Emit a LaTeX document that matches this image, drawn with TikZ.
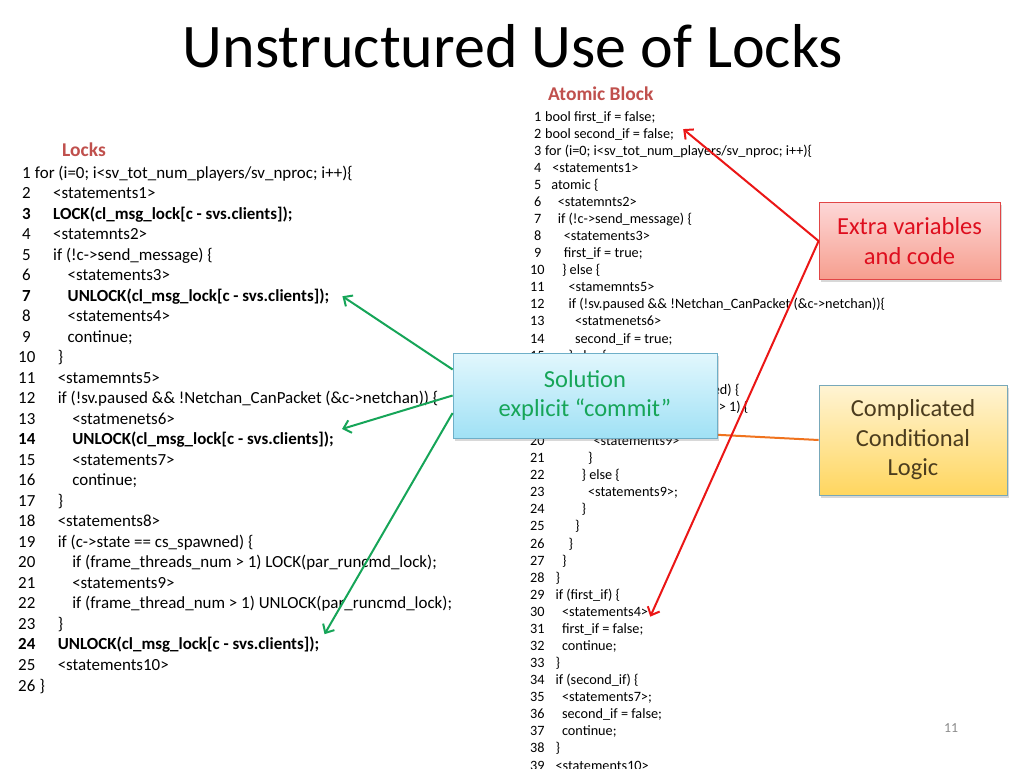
\documentclass[tikz,border=0pt]{standalone}
\usepackage{fontspec}
\setmainfont{Carlito}
\usepackage{tikz}
\usetikzlibrary{positioning,arrows.meta,shadows}

\definecolor{hdred}{RGB}{192,80,77}
\definecolor{solgreen}{RGB}{22,165,88}
\definecolor{arrred}{RGB}{235,22,22}
\definecolor{arrorange}{RGB}{240,115,30}
\definecolor{logictext}{RGB}{75,60,30}

\begin{document}
\begin{tikzpicture}[x=1pt,y=-1pt]
\tikzset{lnum/.style={anchor=base west,inner sep=0pt,font=\fontsize{16.95}{19}\selectfont}}
\tikzset{lnumb/.style={lnum,font=\fontsize{16.95}{19}\selectfont\bfseries}}
\tikzset{lcode/.style={lnum}}
\tikzset{rnum/.style={anchor=base west,inner sep=0pt,font=\fontsize{14.25}{16}\selectfont}}
\tikzset{rcode/.style={rnum}}
\tikzset{hdr/.style={anchor=base west,inner sep=0pt,text=hdred,font=\fontsize{19.5}{22}\selectfont\bfseries}}
\tikzset{callout/.style={align=center,inner sep=0pt,font=\fontsize{24.5}{29.5}\selectfont,
    line width=0.8pt,drop shadow={shadow xshift=2pt,shadow yshift=-2.5pt,opacity=0.3}}}
\tikzset{garrow/.style={draw=solgreen,line width=2pt,-{Straight Barb[length=7pt,width=13pt]}}}
\tikzset{rarrow/.style={draw=arrred,line width=2pt,-{Straight Barb[length=7pt,width=13pt]}}}
\useasboundingbox[fill=white] (0,0) rectangle (1024,768);

\node[anchor=base,inner sep=0pt,font=\fontsize{62}{70}\selectfont] (title) at (513,67) {Unstructured Use of Locks};

% Locks
\node[hdr] (lhead) at (62,156) {Locks};
\foreach \n in {1,2,4,5,6,8,9}
  \node[lnum] (ln\n) at (22,{178+(\n-1)*20.52}) {\n};
\foreach \n in {3,7}
  \node[lnumb] (ln\n) at (22,{178+(\n-1)*20.52}) {\n};
\foreach \n in {10,11,12,13,15,16,17,18,19,20,21,22,23,25,26}
  \node[lnum] (ln\n) at (18,{178+(\n-1)*20.52}) {\n};
\foreach \n in {14,24}
  \node[lnumb] (ln\n) at (18,{178+(\n-1)*20.52}) {\n};

\node[lcode,base right=3.8pt of ln1] (l1) {for (i=0; i<sv\_tot\_num\_players/sv\_nproc; i++)\{};
\node[lcode,base right=22pt of ln2] (l2) {<statements1>};
\node[lcode,base right=22pt of ln3] (l3) {\bfseries LOCK(cl\_msg\_lock[c - svs.clients]);};
\node[lcode,base right=22pt of ln4] (l4) {<statemnts2>};
\node[lcode,base right=22pt of ln5] (l5) {if (!c->send\_message) \{};
\node[lcode,base right=36.5pt of ln6] (l6) {<statements3>};
\node[lcode,base right=36.5pt of ln7] (l7) {\bfseries UNLOCK(cl\_msg\_lock[c - svs.clients]);};
\node[lcode,base right=36.5pt of ln8] (l8) {<statements4>};
\node[lcode,base right=36.5pt of ln9] (l9) {continue;};
\node[lcode,base right=22pt of ln10] (l10) {\}};
\node[lcode,base right=22pt of ln11] (l11) {<stamemnts5>};
\node[lcode,base right=22pt of ln12] (l12) {if (!sv.paused \&\& !Netchan\_CanPacket (\&c->netchan)) \{};
\node[lcode,base right=36.5pt of ln13] (l13) {<statmenets6>};
\node[lcode,base right=36.5pt of ln14] (l14) {\bfseries UNLOCK(cl\_msg\_lock[c - svs.clients]);};
\node[lcode,base right=36.5pt of ln15] (l15) {<statements7>};
\node[lcode,base right=36.5pt of ln16] (l16) {continue;};
\node[lcode,base right=22pt of ln17] (l17) {\}};
\node[lcode,base right=22pt of ln18] (l18) {<statements8>};
\node[lcode,base right=22pt of ln19] (l19) {if (c->state == cs\_spawned) \{};
\node[lcode,base right=36.5pt of ln20] (l20) {if (frame\_threads\_num > 1) LOCK(par\_runcmd\_lock);};
\node[lcode,base right=36.5pt of ln21] (l21) {<statements9>};
\node[lcode,base right=36.5pt of ln22] (l22) {if (frame\_thread\_num > 1) UNLOCK(par\_runcmd\_lock);};
\node[lcode,base right=22pt of ln23] (l23) {\}};
\node[lcode,base right=22pt of ln24] (l24) {\bfseries UNLOCK(cl\_msg\_lock[c - svs.clients]);};
\node[lcode,base right=22pt of ln25] (l25) {<statements10>};
\node[lcode,base right=3.8pt of ln26] (l26) {\}};

% Atomic Block
\node[hdr] (rhead) at (548,100) {Atomic Block};
\foreach \n in {1,...,9}
  \node[rnum] (rn\n) at (534,{121+(\n-1)*17.08}) {\n};
\foreach \n in {10,...,39}
  \node[rnum] (rn\n) at (530,{121+(\n-1)*17.08}) {\n};

\node[rcode,base right=3.2pt of rn1] (r1) {bool first\_if = false;};
\node[rcode,base right=3.2pt of rn2] (r2) {bool second\_if = false;};
\node[rcode,base right=3.2pt of rn3] (r3) {for (i=0; i<sv\_tot\_num\_players/sv\_nproc; i++)\{};
\node[rcode,base right=10.5pt of rn4] (r4) {<statements1>};
\node[rcode,base right=9.5pt of rn5] (r5) {atomic \{};
\node[rcode,base right=16pt of rn6] (r6) {<statemnts2>};
\node[rcode,base right=16pt of rn7] (r7) {if (!c->send\_message) \{};
\node[rcode,base right=22pt of rn8] (r8) {<statements3>};
\node[rcode,base right=22pt of rn9] (r9) {first\_if = true;};
\node[rcode,base right=17pt of rn10] (r10) {\} else \{};
\node[rcode,base right=23.5pt of rn11] (r11) {<stamemnts5>};
\node[rcode,base right=23.5pt of rn12] (r12) {if (!sv.paused \&\& !Netchan\_CanPacket (\&c->netchan))\{};
\node[rcode,base right=30pt of rn13] (r13) {<statmenets6>};
\node[rcode,base right=30pt of rn14] (r14) {second\_if = true;};
\node[rcode,base right=23.5pt of rn15] (r15) {\} else \{};
\node[rcode,base right=30pt of rn17] (r17) {if (c->state == cs\_spawned) \{};
\node[rcode,base right=36.5pt of rn18] (r18) {if (frame\_threads\_num > 1) \{};
\node[rcode,base right=48.5pt of rn20] (r20) {<statements9>};
\node[rcode,base right=43pt of rn21] (r21) {\}};
\node[rcode,base right=36.5pt of rn22] (r22) {\} else \{};
\node[rcode,base right=43pt of rn23] (r23) {<statements9>;};
\node[rcode,base right=36.5pt of rn24] (r24) {\}};
\node[rcode,base right=30pt of rn25] (r25) {\}};
\node[rcode,base right=23.5pt of rn26] (r26) {\}};
\node[rcode,base right=17pt of rn27] (r27) {\}};
\node[rcode,base right=10.5pt of rn28] (r28) {\}};
\node[rcode,base right=10.5pt of rn29] (r29) {if (first\_if) \{};
\node[rcode,base right=17pt of rn30] (r30) {<statements4>};
\node[rcode,base right=17pt of rn31] (r31) {first\_if = false;};
\node[rcode,base right=17pt of rn32] (r32) {continue;};
\node[rcode,base right=10.5pt of rn33] (r33) {\}};
\node[rcode,base right=10.5pt of rn34] (r34) {if (second\_if) \{};
\node[rcode,base right=17pt of rn35] (r35) {<statements7>;};
\node[rcode,base right=17pt of rn36] (r36) {second\_if = false;};
\node[rcode,base right=17pt of rn37] (r37) {continue;};
\node[rcode,base right=10.5pt of rn38] (r38) {\}};
\node[rcode,base right=10.5pt of rn39] (r39) {<statements10>};

% callouts
\node[callout,draw={rgb,255:red,225;green,70;blue,70},top color={rgb,255:red,253;green,215;blue,215},
  bottom color={rgb,255:red,246;green,158;blue,142},text={rgb,255:red,222;green,14;blue,30},
  minimum width=181pt,minimum height=77pt] (extra) at (909.5,241) {Extra variables\\and code};
\node[callout,draw={rgb,255:red,120;green,168;blue,185},top color={rgb,255:red,255;green,244;blue,212},
  bottom color={rgb,255:red,255;green,214;blue,95},text=logictext,
  minimum width=188pt,minimum height=110pt] (logic) at (913,440) {Complicated\\Conditional\\Logic};
\draw[arrorange,line width=2pt] (logic.west) -- ([yshift=10pt]585,438);
\node[callout,draw={rgb,255:red,110;green,175;blue,200},top color={rgb,255:red,226;green,247;blue,253},
  bottom color={rgb,255:red,160;green,225;blue,245},text=solgreen,
  minimum width=264pt,minimum height=85pt] (sol) at (585,395.5) {Solution\\explicit “commit”};

\draw[garrow] ([yshift=26pt]sol.west) -- ([xshift=13pt]l7.east);
\draw[garrow] (sol.west) -- ([xshift=8pt,yshift=3pt]l14.north east);
\draw[garrow] ([yshift=-17.5pt]sol.west) -- ([xshift=5pt,yshift=3pt]l24.north east);
\draw[rarrow] (extra.west) -- ([xshift=9pt,yshift=5pt]r2.east);
\draw[rarrow] (extra.west) -- ([xshift=2pt]r30.south east);

\node[anchor=base west,inner sep=0pt,text={rgb,255:red,140;green,140;blue,140},
  font=\fontsize{13.8}{16}\selectfont] (pageno) at (944,732) {11};
\end{tikzpicture}
\end{document}
